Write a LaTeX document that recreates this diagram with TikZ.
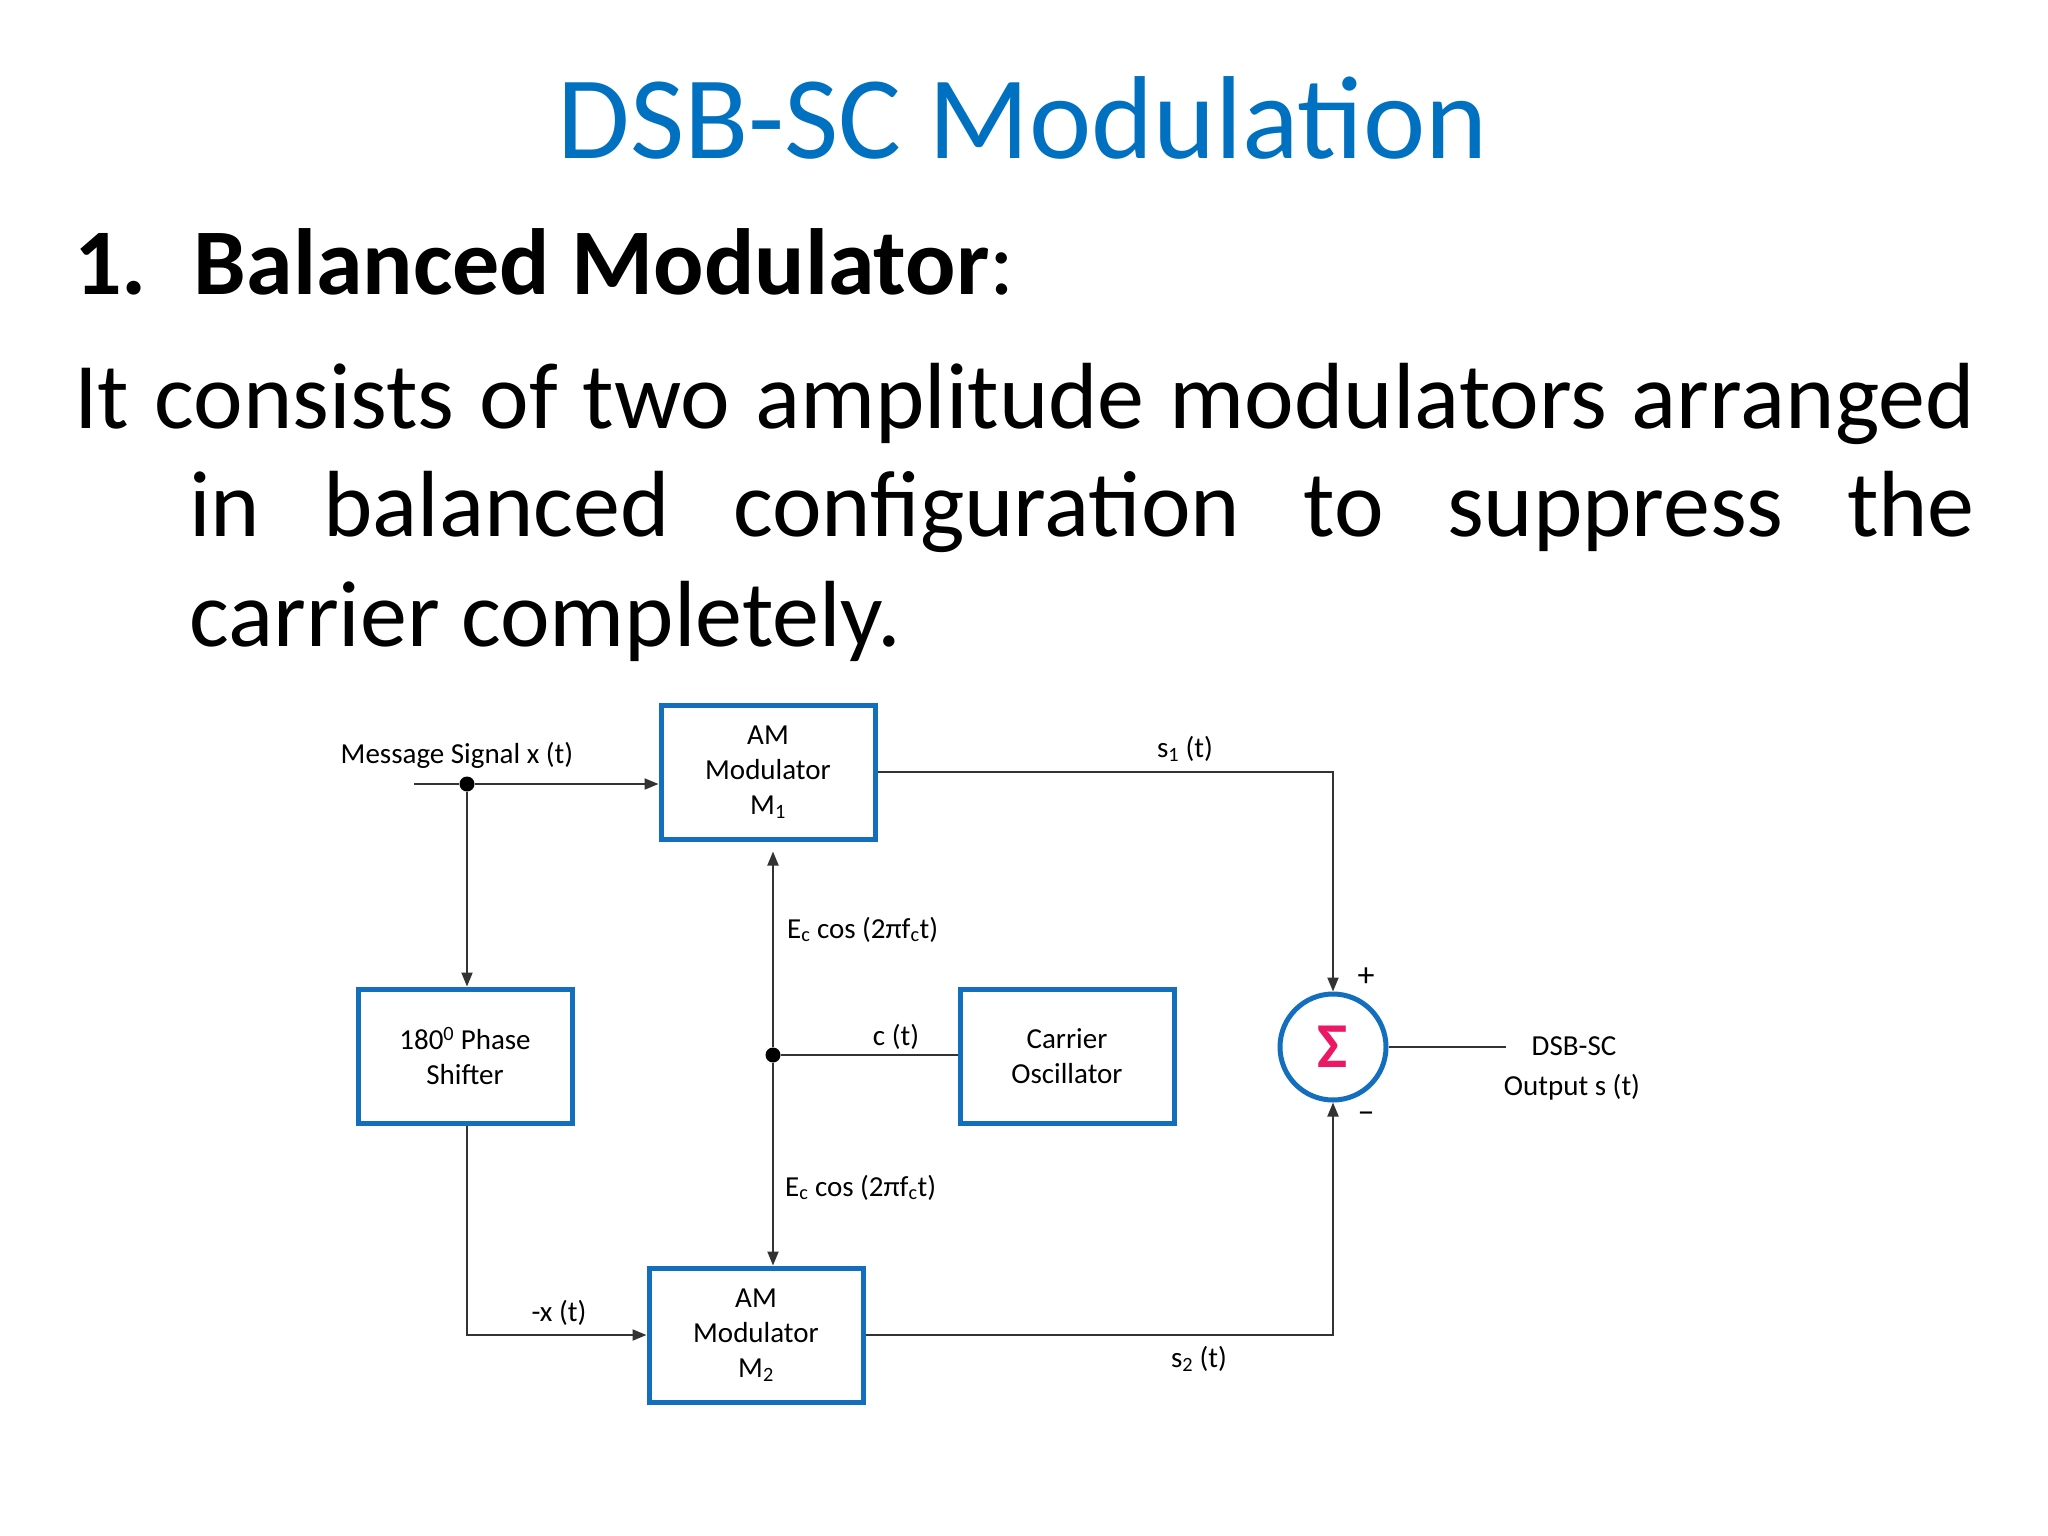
\documentclass[tikz,border=0pt]{standalone}
\usepackage{fontspec}
\setmainfont{Carlito}
\usetikzlibrary{arrows.meta}
\definecolor{tblue}{RGB}{0,112,192}
\definecolor{bblue}{RGB}{20,110,190}
\definecolor{sigc}{RGB}{235,25,100}
\begin{document}
\begin{tikzpicture}[x=1pt,y=-1pt,
  blk/.style={draw=bblue,line width=5pt,minimum width=214pt,minimum height=134pt,align=center,font=\fontsize{29}{35}\selectfont,inner sep=0pt},
  lbl/.style={font=\fontsize{29}{35}\selectfont,inner sep=0pt},
  wire/.style={line width=2pt,black!80},
  arr/.style={wire,-{Triangle[length=14pt,width=11pt]}},
  dot/.style={circle,fill=black,inner sep=0pt,minimum size=15pt}]
\useasboundingbox (0,0) rectangle (2048,1536);
\node[anchor=base,text=tblue,font=\fontsize{118}{130}\selectfont] (title) at (1023,159) {DSB-SC Modulation};
\node[anchor=base west,inner sep=0pt,font=\fontsize{94}{110}\selectfont] (head) at (74,294) {\textbf{1.\hspace{0.5em}Balanced Modulator}:};
\node[anchor=base west,inner sep=0pt,font=\fontsize{94}{110}\selectfont] (p1) at (74,428) {\makebox[1901pt][s]{It consists of two amplitude modulators arranged}};
\node[anchor=base west,inner sep=0pt,font=\fontsize{94}{110}\selectfont] (p2) at (189,536) {\makebox[1786pt][s]{in balanced configuration to suppress the}};
\node[anchor=base west,inner sep=0pt,font=\fontsize{94}{110}\selectfont] (p3) at (189,646) {carrier completely.};

\node[blk] (m1) at (768,772) {AM\\Modulator\\M\textsubscript{1}};
\node[blk] (ps) at (465,1056) {180\textsuperscript{0} Phase\\Shifter};
\node[blk] (co) at (1067,1056) {Carrier\\Oscillator};
\node[blk] (m2) at (756,1335) {AM\\Modulator\\M\textsubscript{2}};
\node[draw=bblue,line width=5pt,circle,minimum size=106pt,inner sep=0pt,text=sigc,font=\fontsize{64}{64}\selectfont\bfseries] (sum) at (1333,1047) {Σ};

\coordinate (ms) at (414,784);
\node[dot] (j1) at (467,784) {};
\node[dot] (j2) at (773,1055) {};
\coordinate (outend) at (1506,1047);
\draw[wire] (ms) -- (j1);
\draw[arr] (j1) -- (m1.west|-j1);
\draw[arr] (j1) -- (ps.north-|j1);
\draw[arr] (j2) -- ([yshift=-10pt]m1.south-|j2);
\draw[arr] (j2) -- (m2.north-|j2);
\draw[wire] (j2) -- (co.west|-j2);
\draw[arr] (m1.east) -| (sum.north);
\draw[arr] (ps.south-|j1) |- (m2.west);
\draw[arr] (m2.east) -| (sum.south);
\draw[wire] (sum.east) -- (outend);

\node[lbl,anchor=base] (l1) at (457,763) {Message Signal x (t)};
\node[lbl,anchor=base] (l2) at (1185,757) {s\textsubscript{1} (t)};
\node[lbl,anchor=base west] (l3) at (787,938) {E\textsubscript{c} cos (2πf\textsubscript{c}t)};
\node[lbl,anchor=base west] (l4) at (785,1196) {E\textsubscript{c} cos (2πf\textsubscript{c}t)};
\node[lbl,anchor=base] (l5) at (896,1045) {c (t)};
\node[lbl,anchor=base] (l6) at (559,1321) {-x (t)};
\node[lbl,anchor=base] (l7) at (1199,1367) {s\textsubscript{2} (t)};
\node[lbl,anchor=base] (l8) at (1574,1055) {DSB-SC};
\node[lbl,anchor=base] (l9) at (1572,1095) {Output s (t)};
\node[lbl,font=\fontsize{34}{34}\selectfont] (pl) at (1366,977) {+};
\node[lbl,font=\fontsize{34}{34}\selectfont] (mi) at (1366,1117) {\textendash};
\end{tikzpicture}
\end{document}
